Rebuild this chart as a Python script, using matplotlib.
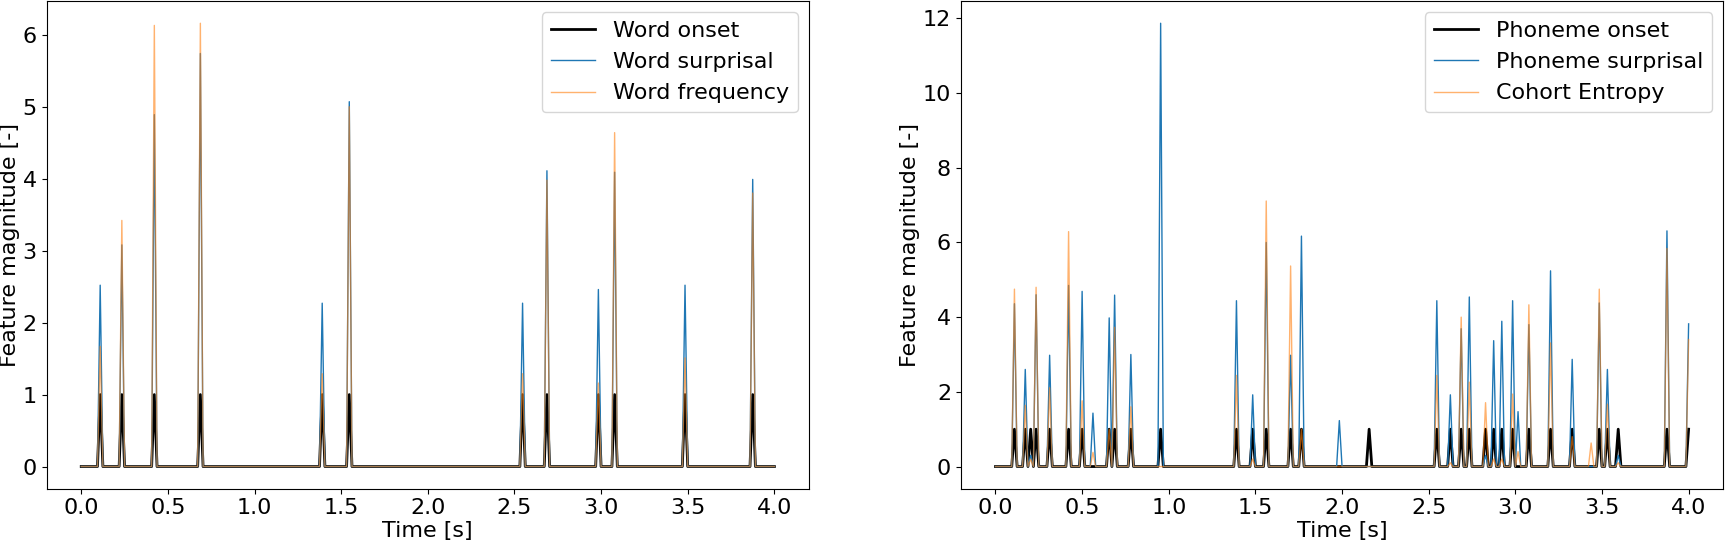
import matplotlib
matplotlib.use('Agg')
import matplotlib.pyplot as plt
import numpy as np

plt.rcParams.update({'font.family': 'DejaVu Sans', 'font.size': 16})

fs = 64
duration = 4.0

# word level features (left panel)
word_times = [0.108, 0.233, 0.415, 0.686, 1.386, 1.554, 2.544, 2.685, 2.978, 3.073, 3.480, 3.880]
word_surprisal = [2.52, 3.08, 4.89, 5.74, 2.27, 5.07, 2.27, 4.11, 2.46, 4.09, 2.52, 3.99]
word_frequency = [1.67, 3.42, 6.13, 6.16, 1.29, 5.00, 1.29, 3.98, 1.16, 4.64, 1.51, 3.80]

# phoneme level features (right panel)
phon_times = [0.108, 0.178, 0.209, 0.242, 0.314, 0.423, 0.501, 0.565, 0.659, 0.687,
              0.784, 0.954, 1.391, 1.485, 1.563, 1.697, 1.766, 1.981, 2.156, 2.546,
              2.625, 2.688, 2.736, 2.828, 2.874, 2.922, 2.983, 3.017, 3.079, 3.203,
              3.328, 3.437, 3.485, 3.532, 3.594, 3.873, 4.000]
phon_onset = [1, 1, 1, 1, 1, 1, 1, 0, 1, 1,
              1, 1, 1, 1, 1, 1, 1, 0, 1, 1,
              1, 1, 1, 1, 1, 1, 1, 0, 1, 1,
              1, 0, 1, 1, 1, 1, 1]
phon_surprisal = [4.36, 2.60, 0.30, 4.60, 2.98, 4.85, 4.69, 1.43, 3.98, 4.59,
                  3.00, 11.87, 4.44, 1.92, 6.00, 2.98, 6.17, 1.23, 0.00, 4.44,
                  1.92, 3.69, 4.54, 0.30, 3.37, 3.89, 4.44, 1.47, 3.80, 5.24,
                  2.87, 0.00, 4.38, 2.60, 0.30, 6.31, 3.82]
cohort_entropy = [4.75, 1.64, 0.20, 4.80, 2.11, 6.29, 1.76, 0.38, 1.00, 3.73,
                  1.60, 0.00, 2.44, 0.20, 7.11, 5.37, 1.00, 0.00, 0.00, 2.44,
                  0.10, 4.00, 2.26, 1.71, 0.20, 0.20, 1.94, 0.40, 4.33, 3.31,
                  0.80, 0.63, 4.75, 1.67, 0.10, 5.84, 3.40]

t = np.arange(int(duration * fs) + 1) / fs


def impulses(times, values):
    sig = np.zeros_like(t)
    idx = np.round(np.asarray(times) * fs).astype(int)
    sig[idx] = values
    return sig


fig = plt.figure(figsize=(17.25, 5.43), dpi=100)
ax1 = fig.add_axes([0.027, 0.1, 0.442, 0.898])
ax2 = fig.add_axes([0.557, 0.1, 0.442, 0.898])

ax1.plot(t, impulses(word_times, np.ones(len(word_times))), color='black', lw=2, label='Word onset')
ax1.plot(t, impulses(word_times, word_surprisal), color='tab:blue', lw=1, label='Word surprisal')
ax1.plot(t, impulses(word_times, word_frequency), color='tab:orange', lw=1, alpha=0.6, label='Word frequency')

ax2.plot(t, impulses(phon_times, phon_onset), color='black', lw=2, label='Phoneme onset')
ax2.plot(t, impulses(phon_times, phon_surprisal), color='tab:blue', lw=1, label='Phoneme surprisal')
ax2.plot(t, impulses(phon_times, cohort_entropy), color='tab:orange', lw=1, alpha=0.6, label='Cohort Entropy')

for ax in (ax1, ax2):
    ax.set_xlabel('Time [s]', labelpad=2)
    ax.set_ylabel('Feature magnitude [-]', labelpad=2)
    ax.set_xticks(np.arange(0, 4.01, 0.5))
    ax.legend(loc='upper right')

fig.savefig('out.png', dpi=100)
